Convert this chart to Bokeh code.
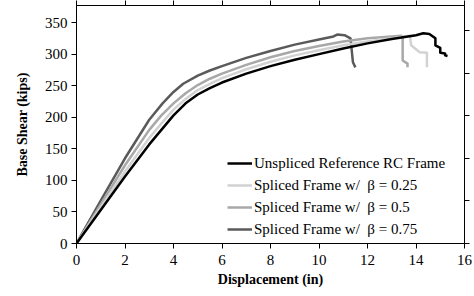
from bokeh.plotting import figure
from bokeh.models import (Range1d, LinearAxis, FixedTicker, Legend, LegendItem)
from bokeh.embed import file_html
from bokeh.resources import INLINE

# ---- data ----
x_ticks = [0, 2, 4, 6, 8, 10, 12, 14, 16]
y_ticks = [0, 50, 100, 150, 200, 250, 300, 350]

unspliced_disp = [0, 1, 2, 3, 3.5, 4, 4.5, 5, 5.5, 6, 7, 8, 9, 10, 11, 12, 13, 14, 14.3,
                  14.55, 14.8, 14.8, 15.0, 15.0, 15.2, 15.2, 15.3]
unspliced_shear = [0, 53, 106, 157, 180, 203, 222, 236, 246, 255, 269, 281, 291, 300, 309, 317,
                   324, 330, 333, 332, 325, 314, 310, 302, 301, 298, 297]

b025_disp = [0, 1, 2, 3, 3.5, 4, 4.5, 5, 5.5, 6, 7, 8, 9, 10, 11, 12, 13, 13.75,
             13.8, 14.15, 14.45, 14.45]
b025_shear = [0, 57, 114, 167, 190, 212, 229, 243, 253, 262, 276, 288, 298, 306, 314, 320,
              325, 329, 314, 303, 302, 279]

b05_disp = [0, 1, 2, 3, 3.5, 4, 4.5, 5, 5.5, 6, 7, 8, 9, 10, 11, 12, 13, 13.4,
            13.45, 13.45, 13.65, 13.65]
b05_shear = [0, 62, 124, 180, 203, 222, 238, 251, 261, 269, 283, 295, 305, 313, 320, 325,
             328, 329, 325, 290, 285, 279]

b075_disp = [0, 1, 2, 3, 3.55, 4, 4.4, 5, 5.5, 6, 7, 8, 9, 10, 10.6, 10.75, 11.05, 11.3,
             11.4, 11.5]
b075_shear = [0, 68, 135, 196, 222, 240, 253, 266, 274, 281, 294, 305, 315, 323, 328, 331,
              330, 325, 287, 279]

labels = ["Unspliced Reference RC Frame",
          "Spliced Frame w/  \u03b2 = 0.25",
          "Spliced Frame w/  \u03b2 = 0.5",
          "Spliced Frame w/  \u03b2 = 0.75"]
colors = ["#000000", "#d2d2d2", "#a8a8a8", "#5a5a5a"]
right_ticks = [0, 67.5, 135, 202.5, 270, 337.5]

FONT = "Liberation Serif"

p = figure(width=474, height=296, output_backend="svg", toolbar_location=None,
           x_range=Range1d(0, 16), y_range=Range1d(0, 377),
           min_border_left=76, min_border_right=10, min_border_top=5, min_border_bottom=53)
p.background_fill_color = "white"
p.border_fill_color = "white"
p.outline_line_color = "black"
p.outline_line_width = 1
p.xgrid.visible = False
p.ygrid.visible = False

def style_axis(ax, ticks, show_labels=True):
    ax.axis_line_color = "black"
    ax.major_tick_line_color = "black"
    ax.minor_tick_line_color = None
    ax.major_tick_in = 0
    ax.major_tick_out = 5
    ax.major_label_text_font = FONT
    ax.major_label_text_font_size = "15px"
    ax.major_label_text_color = "black"
    ax.axis_label_text_font = FONT
    ax.axis_label_text_font_size = "14px"
    ax.axis_label_text_font_style = "bold"
    ax.axis_label_text_color = "black"
    if not show_labels:
        ax.major_label_overrides = {t: "" for t in ticks}
        ax.major_label_standoff = 0

p.xaxis.ticker = FixedTicker(ticks=x_ticks)
p.yaxis.ticker = FixedTicker(ticks=y_ticks)
p.xaxis.axis_label = "Displacement (in)"
p.yaxis.axis_label = "Base Shear (kips)"
style_axis(p.xaxis[0], x_ticks)
style_axis(p.yaxis[0], y_ticks)
p.xaxis.major_label_standoff = 6
p.yaxis.major_label_standoff = 4
p.xaxis.axis_label_standoff = 4
p.yaxis.axis_label_standoff = 12

top_ax = LinearAxis(ticker=FixedTicker(ticks=x_ticks))
style_axis(top_ax, x_ticks, show_labels=False)
p.add_layout(top_ax, "above")
right_ax = LinearAxis(ticker=FixedTicker(ticks=right_ticks))
style_axis(right_ax, right_ticks, show_labels=False)
p.add_layout(right_ax, "right")

series = [(unspliced_disp, unspliced_shear), (b025_disp, b025_shear),
          (b05_disp, b05_shear), (b075_disp, b075_shear)]
renderers = [None] * 4
for i in [3, 2, 1, 0]:
    xs, ys = series[i]
    renderers[i] = p.line(xs, ys, line_color=colors[i], line_width=2.5, line_join="round")

items = [LegendItem(label=labels[i], renderers=[renderers[i]]) for i in range(4)]
legend = Legend(items=items, location=(151, 3))
legend.border_line_color = None
legend.background_fill_alpha = 0
legend.padding = 0
legend.margin = 0
legend.spacing = 0
legend.glyph_width = 25
legend.glyph_height = 22
legend.label_height = 22
legend.label_standoff = 2
legend.label_text_font = FONT
legend.label_text_font_size = "15px"
legend.label_text_color = "black"
p.add_layout(legend, "center")

open("out.html", "w").write(file_html(p, INLINE))
